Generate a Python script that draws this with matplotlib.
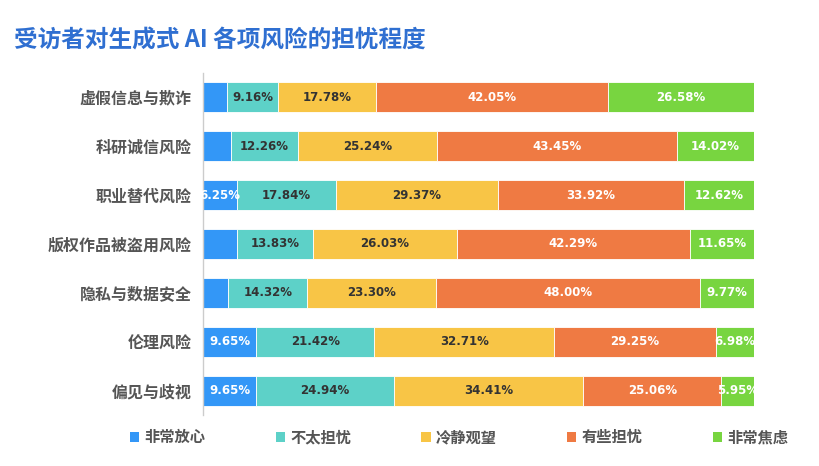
import matplotlib
matplotlib.use("Agg")
import matplotlib.pyplot as plt
from matplotlib.patches import Patch

plt.rcParams['font.family'] = ['Noto Sans CJK SC', 'DejaVu Sans']

categories = ["虚假信息与欺诈", "科研诚信风险", "职业替代风险", "版权作品被盗用风险",
              "隐私与数据安全", "伦理风险", "偏见与歧视"]
series_names = ["非常放心", "不太担忧", "冷静观望", "有些担忧", "非常焦虑"]
very_safe   = [4.43, 5.03, 6.25, 6.20, 4.61, 9.65, 9.65]
not_worried = [9.16, 12.26, 17.84, 13.83, 14.32, 21.42, 24.94]
neutral     = [17.78, 25.24, 29.37, 26.03, 23.30, 32.71, 34.41]
somewhat    = [42.05, 43.45, 33.92, 42.29, 48.00, 29.25, 25.06]
very_anx    = [26.58, 14.02, 12.62, 11.65, 9.77, 6.98, 5.95]
hidden_labels = [(0, 0), (1, 0), (3, 0), (4, 0)]

colors = ["#3397F7", "#5DD1C8", "#F8C546", "#EF7A43", "#78D540"]
text_colors = ["white", "#333333", "#333333", "white", "white"]

data = [very_safe, not_worried, neutral, somewhat, very_anx]

fig = plt.figure(figsize=(8.2, 4.66), dpi=100)
ax = fig.add_axes([0.2476, 0.1084, 0.9195 - 0.2476, 0.8444 - 0.1084])

y = list(range(len(categories)))
left = [0.0] * len(categories)
for si, vals in enumerate(data):
    ax.barh(y, vals, left=left, height=0.6, color=colors[si],
            edgecolor="white", linewidth=0.6, label=series_names[si])
    for ci, v in enumerate(vals):
        if (ci, si) in hidden_labels:
            continue
        ax.text(left[ci] + v / 2, ci, f"{v:.2f}%", ha="center", va="center",
                fontsize=8.5, fontweight="bold", color=text_colors[si],
                family=['DejaVu Sans'])
    left = [l + v for l, v in zip(left, vals)]

ax.set_xlim(0, 100)
ax.set_ylim(len(categories) - 0.5, -0.5)
ax.set_yticks(y)
ax.set_yticklabels(categories, fontsize=11.5, color="#555555", fontweight="bold")
ax.tick_params(axis='y', length=0, pad=8)
ax.set_xticks([])
for s in ["top", "right", "bottom"]:
    ax.spines[s].set_visible(False)
ax.spines["left"].set_color("#cccccc")
ax.spines["left"].set_linewidth(1.0)

fig.text(0.017, 0.913, "受访者对生成式 AI 各项风险的担忧程度", fontsize=17,
         fontweight="heavy", color="#2F6FD1", ha="left", va="center")

handles = [Patch(facecolor=c, edgecolor="none") for c in colors]
fig.legend(handles, series_names, loc="center", bbox_to_anchor=(0.56, 0.062),
           ncol=5, frameon=False, handlelength=0.6, handleheight=0.6,
           handletextpad=0.35, columnspacing=4.6, labelcolor="#555555",
           prop={'size': 11, 'weight': 'bold'})

fig.savefig("out.png", dpi=100)
